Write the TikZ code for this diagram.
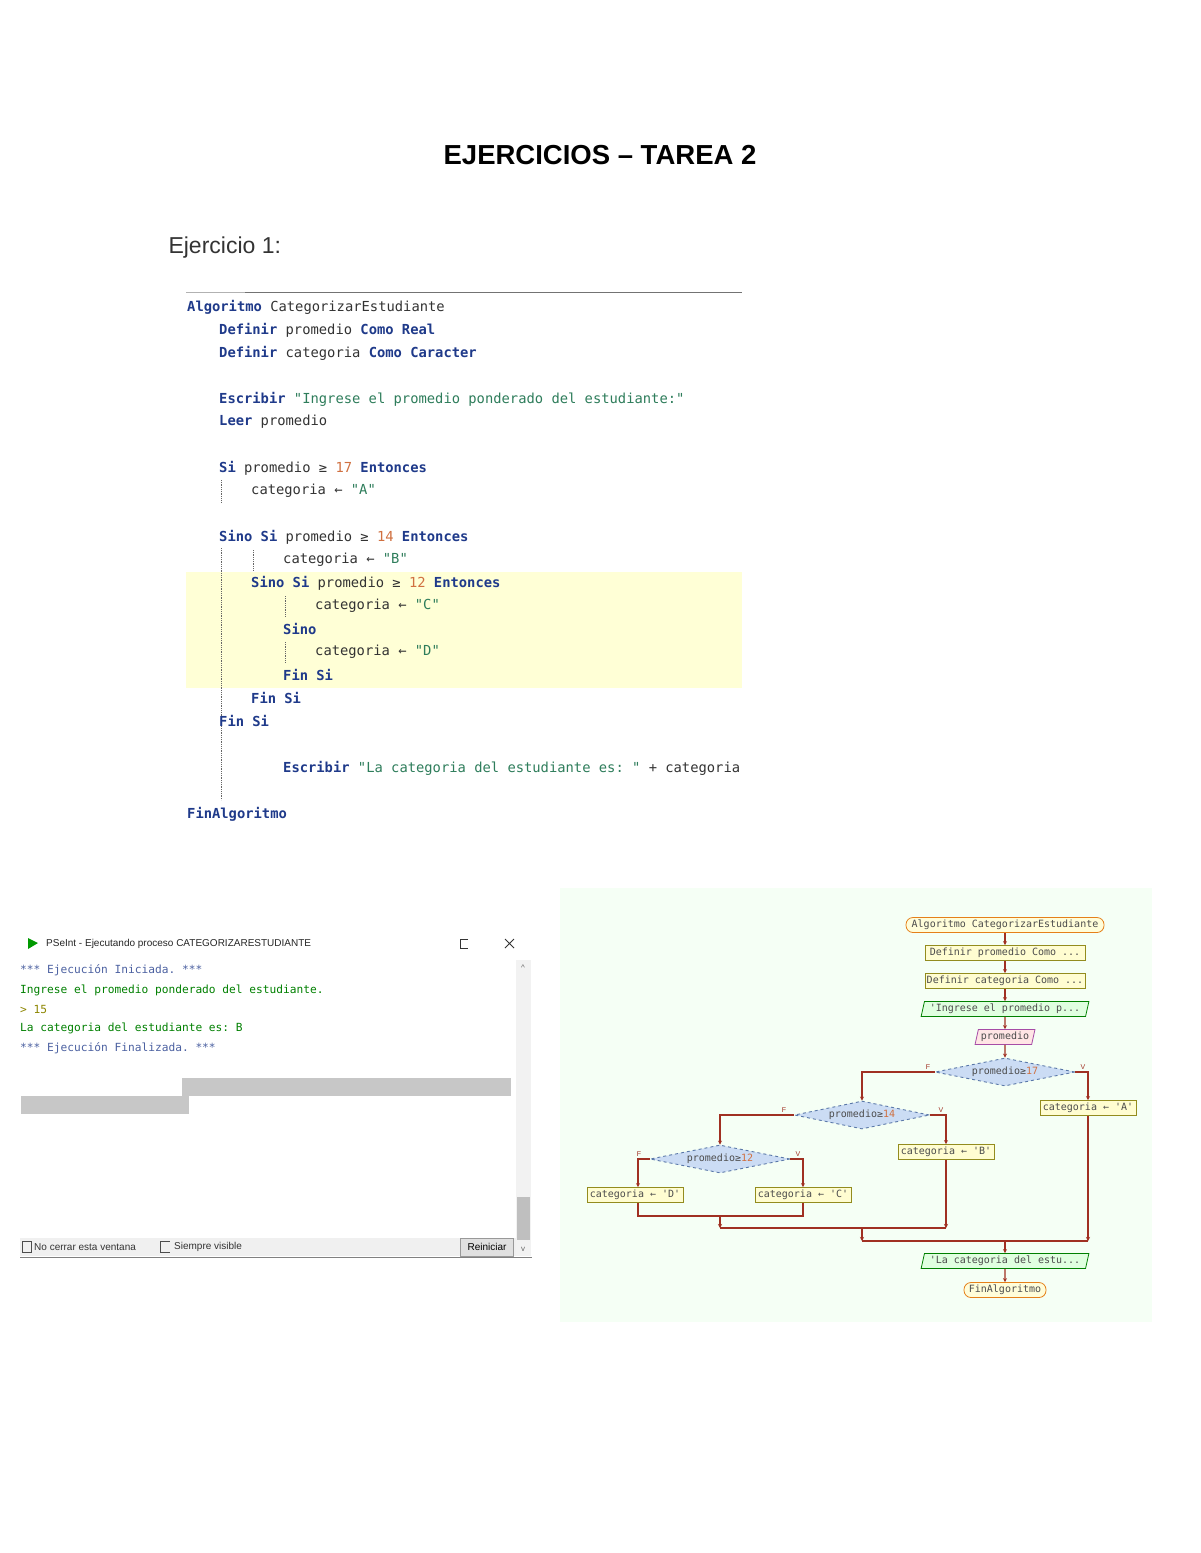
\documentclass[tikz,border=0pt]{standalone}
\usepackage{fontspec}
\setmainfont{Liberation Sans}
\setsansfont{Liberation Sans}
\setmonofont{DejaVu Sans Mono}
\usetikzlibrary{shapes.geometric,arrows.meta}
\definecolor{kw}{HTML}{1F3A8A}
\definecolor{st}{HTML}{2E7D5B}
\definecolor{nm}{HTML}{D07040}
\definecolor{id}{HTML}{333333}
\definecolor{hl}{HTML}{FFFFD6}
\definecolor{fl}{HTML}{A03022}
\definecolor{dfill}{HTML}{CBDCF4}
\definecolor{dline}{HTML}{5A78A8}
\newcommand{\kwd}[1]{\textcolor{kw}{\textbf{#1}}}
\newcommand{\strg}[1]{\textcolor{st}{#1}}
\newcommand{\numb}[1]{\textcolor{nm}{#1}}
\tikzset{
 code/.style={anchor=west,inner sep=0pt,font=\fontsize{13.8}{14}\ttfamily,text=id},
 con/.style={anchor=west,inner sep=0pt,font=\fontsize{11.2}{12}\ttfamily},
 fc/.style={font=\fontsize{10}{11}\ttfamily,text=black!70,inner sep=1pt},
 proc/.style={fc,draw=olive!70!yellow!80!black,fill=yellow!18,minimum height=15pt,line width=0.8pt},
 term/.style={fc,draw=orange!60!brown,fill=yellow!15,rounded corners=7pt,minimum height=15pt,line width=0.8pt},
 outp/.style={fc,draw=green!50!black,fill=green!12,trapezium,trapezium left angle=75,trapezium right angle=105,trapezium stretches=true,minimum height=15pt,line width=0.8pt},
 inp/.style={fc,draw=violet!70,fill=pink!40,trapezium,trapezium left angle=75,trapezium right angle=105,trapezium stretches=true,minimum height=15pt,line width=0.8pt},
 dec/.style={fc,draw=dline,dashed,fill=dfill,diamond,aspect=5.3,inner sep=0pt,line width=0.9pt},
 ln/.style={draw=fl,line width=1.1pt},
 arr/.style={ln,-{Stealth[length=4pt,width=4pt]}},
 lab/.style={font=\fontsize{7}{7}\sffamily,text=fl,inner sep=0pt}
}
\begin{document}
\begin{tikzpicture}[x=1pt,y=-1pt]
\useasboundingbox[fill=white] (0,0) rectangle (1200,1553);
\node[font=\fontsize{27.5}{30}\sffamily\bfseries] (title) at (600,155) {EJERCICIOS – TAREA 2};
\node[anchor=west,font=\fontsize{23}{26}\sffamily,text=black!80] (ej) at (165,248) {Ejercicio 1:};
% code panel
\draw[black!30,line width=1pt] (186,292) -- (742,292);
\draw[black!55,line width=1pt] (245,292) -- (742,292);
\fill[hl] (186,572) rectangle (742,688);
\draw[black!60,densely dotted,line width=0.8pt] (221,480)--(221,502) (221,548)--(221,800) (253,550)--(253,570) (285,596)--(285,616) (285,642)--(285,662);
\node[code] (c1) at (187,307) {\kwd{Algoritmo} CategorizarEstudiante};
\node[code] (c2) at (219,330) {\kwd{Definir} promedio  \kwd{Como Real}};
\node[code] (c3) at (219,353) {\kwd{Definir} categoria \kwd{Como Caracter}};
\node[code] (c4) at (219,399) {\kwd{Escribir} \strg{"Ingrese el promedio ponderado del estudiante:"}};
\node[code] (c5) at (219,422) {\kwd{Leer} promedio};
\node[code] (c6) at (219,468) {\kwd{Si}  promedio ≥ \numb{17} \kwd{Entonces}};
\node[code] (c7) at (251,491) {categoria ← \strg{"A"}};
\node[code] (c8) at (219,537) {\kwd{Sino Si} promedio ≥ \numb{14} \kwd{Entonces}};
\node[code] (c9) at (283,560) {categoria ← \strg{"B"}};
\node[code] (c10) at (251,583) {\kwd{Sino Si} promedio ≥ \numb{12} \kwd{Entonces}};
\node[code] (c11) at (315,606) {categoria ← \strg{"C"}};
\node[code] (c12) at (283,629) {\kwd{Sino}};
\node[code] (c13) at (315,652) {categoria ← \strg{"D"}};
\node[code] (c14) at (283,675) {\kwd{Fin Si}};
\node[code] (c15) at (251,698) {\kwd{Fin Si}};
\node[code] (c16) at (219,721) {\kwd{Fin Si}};
\node[code] (c17) at (283,768) {\kwd{Escribir} \strg{"La categoria del estudiante es: "} + categoria};
\node[code] (c18) at (187,814) {\kwd{FinAlgoritmo}};
% console window
\fill[green!60!black] (28,938) -- (38,943) -- (28,949) -- cycle;
\node[anchor=west,font=\fontsize{10}{11}\sffamily,text=black!85,inner sep=0pt] (wt) at (46,944) {PSeInt - Ejecutando proceso CATEGORIZARESTUDIANTE};
\draw[black!80,line width=1pt] (468,939) -| (460,948) -- (468,948);
\draw[black!80,line width=0.9pt] (505,939)--(514,948) (514,939)--(505,948);
\node[con,text=kw!80] (l1) at (20,970) {*** Ejecución Iniciada. ***};
\node[con,text=green!50!black] (l2) at (20,990) {Ingrese el promedio ponderado del estudiante.};
\node[con,text=olive] (l3) at (20,1009) {> 15};
\node[con,text=green!50!black] (l4) at (20,1028) {La categoria del estudiante es: B};
\node[con,text=kw!80] (l5) at (20,1048) {*** Ejecución Finalizada. ***};
\fill[black!22] (182,1078) rectangle (511,1096);
\fill[black!22] (21,1096) rectangle (189,1114);
\fill[black!5] (516,960) rectangle (531,1256);
\fill[black!25] (517,1197) rectangle (530,1240);
\node[font=\fontsize{8}{8}\sffamily,text=black!60] (up) at (523,968) {\^{}};
\fill[black!6] (20,1238) rectangle (516,1256);
\draw[black!50] (20,1257) -- (532,1257);
\draw[black!70] (22,1241) rectangle (31,1252);
\node[anchor=west,font=\fontsize{10}{11}\sffamily,text=black!80,inner sep=0pt] (cb1) at (34,1247) {No cerrar esta ventana};
\draw[black!70] (160,1241) -- (160,1252) -- (170,1252);
\draw[black!70] (160,1241) -- (170,1241);
\node[anchor=west,font=\fontsize{10}{11}\sffamily,text=black!80,inner sep=0pt] (cb2) at (174,1247) {Siempre visible};
\node[draw=black!40,fill=black!12,font=\fontsize{10}{11}\sffamily,minimum width=53pt,minimum height=18pt,inner sep=0pt] (btn) at (487,1247) {Reiniciar};
\node[font=\fontsize{8}{8}\sffamily,text=black!60] (dn) at (523,1249) {v};
% flowchart
\fill[green!4!white] (560,888) rectangle (1152,1322);
\node[term,minimum width=198pt] (s) at (1005,925) {Algoritmo CategorizarEstudiante};
\node[proc,minimum width=160pt] (d1) at (1005,953) {Definir promedio Como ...};
\node[proc,minimum width=160pt] (d2) at (1005,981) {Definir categoria Como ...};
\node[outp,minimum width=168pt] (o1) at (1005,1009) {'Ingrese el promedio p...};
\node[inp,minimum width=60pt] (i1) at (1005,1037) {promedio};
\node[dec,minimum width=140pt,minimum height=28pt] (q1) at (1005,1072) {promedio≥\textcolor{nm}{17}};
\node[dec,minimum width=135pt,minimum height=28pt] (q2) at (862,1115) {promedio≥\textcolor{nm}{14}};
\node[dec,minimum width=140pt,minimum height=28pt] (q3) at (720,1159) {promedio≥\textcolor{nm}{12}};
\node[proc,minimum width=96pt] (pa) at (1088,1108) {categoria ← 'A'};
\node[proc,minimum width=96pt] (pb) at (946,1152) {categoria ← 'B'};
\node[proc,minimum width=96pt] (pc) at (803,1195) {categoria ← 'C'};
\node[proc,minimum width=96pt] (pd) at (635,1195) {categoria ← 'D'};
\node[outp,minimum width=168pt] (o2) at (1005,1261) {'La categoria del estu...};
\node[term,minimum width=82pt] (e) at (1005,1290) {FinAlgoritmo};
\draw[arr] (s)--(d1);
\draw[arr] (d1)--(d2);
\draw[arr] (d2)--(o1);
\draw[arr] (o1)--(i1);
\draw[arr] (i1)--(q1);
\draw[arr] (q1.west) -| (q2.north);
\draw[arr] (q1.east) -| (pa.north);
\draw[arr] (q2.west) -| (q3.north);
\draw[arr] (q2.east) -| (pb.north);
\draw[arr] (q3.west) -| (pd.north -| 638,0);
\draw[arr] (q3.east) -| (pc.north);
\coordinate (m3) at (720,1216);
\coordinate (m2) at (862,1228);
\coordinate (m1) at (1005,1241);
\draw[ln] (pd.south -| 638,0) |- (m3) (pc.south) |- (m3);
\draw[arr] (m3) -- (720,1228);
\draw[ln] (720,1228) -- (946,1228);
\draw[arr] (pb.south) -- (946,1228);
\draw[arr] (m2) -- (862,1241);
\draw[ln] (862,1241) -- (1088,1241);
\draw[arr] (pa.south) -- (1088,1241);
\draw[arr] (m1) -- (o2);
\draw[arr] (o2)--(e);
\node[lab] (f1) at (928,1067) {F}; \node[lab] (v1) at (1083,1067) {V};
\node[lab] (f2) at (784,1110) {F}; \node[lab] (v2) at (941,1110) {V};
\node[lab] (f3) at (639,1154) {F}; \node[lab] (v3) at (798,1154) {V};
\end{tikzpicture}
\end{document}
